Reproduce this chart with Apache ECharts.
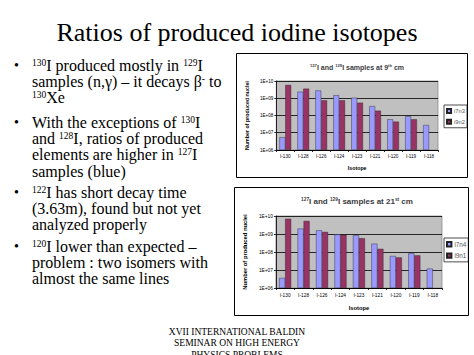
<!DOCTYPE html>
<html>
<head>
<meta charset="utf-8">
<script src="https://cdn.jsdelivr.net/npm/echarts@6/dist/echarts.min.js"></script>
<style>
  html, body { margin:0; padding:0; background:#fff; }
  body { width:474px; height:355px; overflow:hidden; position:relative;
         font-family:"Liberation Serif","Times New Roman",serif; color:#000; }
  #title { position:absolute; left:0; top:20px; width:474px; text-align:center;
           font-size:26px; line-height:26px; white-space:nowrap; }
  .b { position:absolute; left:32px; font-size:16px; line-height:16.2px; white-space:nowrap; }
  .b::before { content:"•"; position:absolute; left:-18px; top:0; font-size:14px; }
  sup { font-size:9.5px; line-height:0; vertical-align:5px; }
  #footer { position:absolute; left:0; top:327px; width:474px; text-align:center;
            font-size:9.5px; line-height:11.3px; white-space:nowrap; }
  .chart { position:absolute; }
</style>
</head>
<body>
<div id="title">Ratios of produced iodine isotopes</div>
<div class="b" style="top:58px"><sup>130</sup>I produced mostly in <sup>129</sup>I<br>samples (n,γ) – it decays β<sup>-</sup> to<br><sup>130</sup>Xe</div>
<div class="b" style="top:115px">With the exceptions of <sup>130</sup>I<br>and <sup>128</sup>I, ratios of produced<br>elements are higher in <sup>127</sup>I<br>samples (blue)</div>
<div class="b" style="top:185px"><sup>122</sup>I has short decay time<br>(3.63m), found but not yet<br>analyzed properly</div>
<div class="b" style="top:239px"><sup>120</sup>I lower than expected –<br>problem : two isomers with<br>almost the same lines</div>
<div id="footer">XVII INTERNATIONAL BALDIN<br>SEMINAR ON HIGH ENERGY<br>PHYSICS PROBLEMS</div>

<div id="c1" class="chart" style="left:236px;top:53px;width:232px;height:125px"></div>
<div id="c2" class="chart" style="left:234px;top:187px;width:235px;height:129px"></div>

<script>
// ---- data ----
const categories = ['I-130','I-128','I-126','I-124','I-123','I-121','I-120','I-119','I-118'];
const yTickLabels = ['1E+06','1E+07','1E+08','1E+09','1E+10'];
// 9th cm
const names9 = ['i7n3','i9n2'];
const cm9_i7n3 = [5.5e6, 2.4e9, 2.8e9, 1.5e9, 1.07e9, 3.5e8, 6.0e7, 9.0e7, 2.8e7];
const cm9_i9n2 = [5.9e9, 3.6e9, 7.6e8, 7.6e8, 5.5e8, 1.9e8, 4.4e7, 6.0e7, null];
// 21st cm
const names21 = ['i7n4','i9n1'];
const cm21_i7n4 = [3.6e6, 2.0e9, 1.6e9, 9.5e8, 8.5e8, 2.9e8, 6.0e7, 8.5e7, 1.2e7];
const cm21_i9n1 = [7.0e9, 5.3e9, 1.3e9, 9.0e8, 5.8e8, 1.5e8, 5.0e7, 6.5e7, null];

const SANS = '"Liberation Sans", Arial, sans-serif';

function build(el, cfg) {
  const chart = echarts.init(el, null, { renderer: 'svg' });
  const W = el.clientWidth, H = el.clientHeight;
  const tf = cfg.tf;
  chart.setOption({
    animation: false,
    textStyle: { fontFamily: SANS },
    title: {
      text: cfg.titleRich,
      left: cfg.titleX, top: cfg.titleY, textAlign: 'center',
      textStyle: {
        rich: {
          s: { fontSize: tf * 0.6, fontWeight: 'bold', fontFamily: SANS, verticalAlign: 'bottom',
               lineHeight: tf * 0.7, padding: [0, 0, tf * 0.5, 0] },
          b: { fontSize: tf, fontWeight: 'bold', fontFamily: SANS, verticalAlign: 'bottom',
               lineHeight: tf * 1.2 }
        }
      }
    },
    graphic: [{
      type: 'rect', shape: { x: 0.5, y: 0.5, width: W - 1, height: H - 1 },
      style: { fill: null, stroke: '#000', lineWidth: 1 }, silent: true
    }],
    legend: {
      orient: 'vertical', left: cfg.legX, top: cfg.legY,
      data: cfg.names, icon: 'rect', itemWidth: cfg.lf * 0.7, itemHeight: cfg.lf * 0.7,
      itemGap: cfg.lf * 0.8, padding: [3, 2, 3, 2],
      borderColor: '#000', borderWidth: 0.7,
      textStyle: { fontSize: cfg.lf, fontFamily: SANS, padding: [0, 0, 0, -2] }
    },
    grid: {
      left: cfg.grid[0], top: cfg.grid[1], width: cfg.grid[2], height: cfg.grid[3],
      show: true, backgroundColor: '#C0C0C0', borderColor: '#808080', borderWidth: 0.7
    },
    xAxis: {
      type: 'category', data: categories,
      name: 'Isotope', nameLocation: 'middle', nameGap: cfg.xNameGap,
      nameTextStyle: { fontSize: cfg.nf, fontWeight: 'bold', fontFamily: SANS },
      axisLine: { lineStyle: { color: '#000', width: 0.8 } },
      axisTick: { show: true, length: 2, lineStyle: { color: '#000', width: 0.8 } },
      axisLabel: { fontSize: cfg.af, color: '#000', margin: cfg.xLabMargin, interval: 0 }
    },
    yAxis: {
      type: 'log', logBase: 10, min: 1e6, max: 1e10, startValue: 1e6,
      name: 'Number of produced nuclei', nameLocation: 'middle', nameGap: cfg.yNameGap,
      nameRotate: 90,
      nameTextStyle: { fontSize: cfg.nf, fontWeight: 'bold', fontFamily: SANS },
      axisLine: { show: true, lineStyle: { color: '#000', width: 0.8 } },
      axisTick: { show: true, length: 2, lineStyle: { color: '#000', width: 0.8 } },
      axisLabel: {
        fontSize: cfg.af, color: '#000', margin: 3,
        formatter: v => yTickLabels[Math.round(Math.log10(v)) - 6]
      },
      splitLine: { show: true, lineStyle: { color: '#000', width: 0.8 } },
      minorTick: { show: false }
    },
    series: [
      { name: cfg.names[0], type: 'bar', data: cfg.s0, barGap: '0%', barCategoryGap: '35%', clip: true,
        itemStyle: { color: '#9999FF', borderColor: '#222', borderWidth: 0.4 } },
      { name: cfg.names[1], type: 'bar', data: cfg.s1, barGap: '0%', barCategoryGap: '35%', clip: true,
        itemStyle: { color: '#993366', borderColor: '#222', borderWidth: 0.4 } }
    ]
  });
}

build(document.getElementById('c1'), {
  titleRich: '{s|127}{b|I and }{s|129}{b|I samples at 9}{s|th}{b| cm}',
  titleX: 116, titleY: 5, tf: 7,
  names: names9, s0: cm9_i7n3, s1: cm9_i9n2,
  grid: [35, 28, 167, 69],
  legX: 208, legY: 52, lf: 5.8,
  nf: 5.3, af: 4.6, xNameGap: 15, yNameGap: 20, xLabMargin: 4
});
build(document.getElementById('c2'), {
  titleRich: '{s|127}{b|I and }{s|129}{b|I samples at 21}{s|st}{b| cm}',
  titleX: 118, titleY: 4, tf: 8,
  names: names21, s0: cm21_i7n4, s1: cm21_i9n1,
  grid: [35, 29, 173, 72],
  legX: 210, legY: 51, lf: 6.3,
  nf: 5.8, af: 4.8, xNameGap: 17, yNameGap: 23, xLabMargin: 5
});
</script>
</body>
</html>
